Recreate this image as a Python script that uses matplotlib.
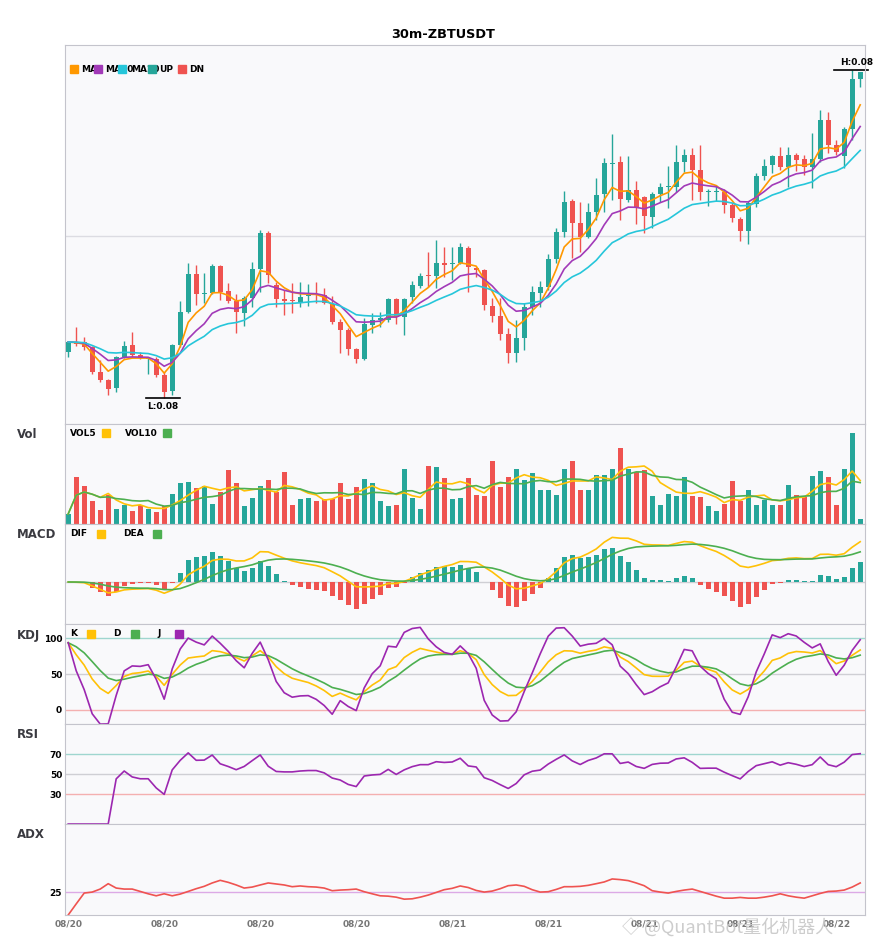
import numpy as np
import pandas as pd
import matplotlib
matplotlib.use("Agg")
import matplotlib.pyplot as plt
from matplotlib.patches import Rectangle

plt.rcParams['font.family'] = ['DejaVu Sans', 'Noto Sans CJK SC']

# 30m candles, prices in units of 0.00001 USDT
open_ = np.array([8034, 8044, 8044, 8039, 8014, 8006, 7998, 8029, 8041, 8031,
                  8027, 8027, 8011, 7995, 8041, 8074, 8112, 8092, 8093, 8120,
                  8095, 8085, 8073, 8088, 8117, 8153, 8101, 8087, 8086, 8084,
                  8090, 8092, 8091, 8082, 8064, 8056, 8037, 8027, 8061, 8066,
                  8066, 8087, 8069, 8089, 8100, 8111, 8110, 8123, 8122, 8123,
                  8138, 8118, 8116, 8080, 8070, 8052, 8033, 8048, 8079, 8093,
                  8099, 8127, 8154, 8185, 8163, 8149, 8174, 8192, 8222, 8224,
                  8186, 8196, 8189, 8169, 8192, 8199, 8199, 8224, 8231, 8216,
                  8194, 8194, 8194, 8181, 8167, 8155, 8182, 8210, 8221, 8230,
                  8219, 8231, 8227, 8219, 8227, 8266, 8241, 8230, 8257, 8307]) / 1e5
high = np.array([8045, 8059, 8049, 8040, 8026, 8007, 8030, 8045, 8054, 8034,
                 8029, 8029, 8014, 8042, 8085, 8123, 8121, 8113, 8122, 8121,
                 8103, 8092, 8090, 8124, 8156, 8155, 8104, 8096, 8103, 8104,
                 8102, 8104, 8098, 8090, 8067, 8058, 8038, 8068, 8073, 8074,
                 8088, 8088, 8088, 8105, 8113, 8134, 8146, 8139, 8139, 8143,
                 8140, 8119, 8117, 8088, 8088, 8058, 8066, 8083, 8100, 8105,
                 8132, 8158, 8195, 8187, 8184, 8183, 8208, 8228, 8252, 8230,
                 8230, 8205, 8190, 8194, 8203, 8220, 8241, 8237, 8238, 8241,
                 8197, 8201, 8197, 8183, 8169, 8185, 8213, 8227, 8231, 8239,
                 8239, 8233, 8231, 8253, 8276, 8274, 8246, 8259, 8316, 8314]) / 1e5
low = np.array([8029, 8040, 8036, 8012, 8004, 7991, 7994, 8028, 8029, 8027,
                8012, 8009, 7988, 7991, 8039, 8073, 8081, 8083, 8092, 8086,
                8083, 8053, 8060, 8079, 8094, 8103, 8079, 8071, 8073, 8079,
                8080, 8083, 8082, 8062, 8033, 8031, 8023, 8026, 8053, 8059,
                8064, 8062, 8051, 8083, 8098, 8099, 8098, 8109, 8106, 8122,
                8094, 8109, 8076, 8064, 8046, 8023, 8024, 8036, 8071, 8079,
                8096, 8123, 8149, 8128, 8134, 8148, 8166, 8174, 8186, 8166,
                8184, 8162, 8153, 8158, 8184, 8178, 8194, 8214, 8186, 8186,
                8180, 8185, 8173, 8164, 8145, 8142, 8179, 8206, 8213, 8216,
                8199, 8215, 8211, 8198, 8224, 8233, 8231, 8218, 8246, 8299]) / 1e5
close = np.array([8044, 8042, 8039, 8014, 8006, 7997, 8029, 8040, 8031, 8028,
                  8028, 8011, 7994, 8041, 8074, 8112, 8092, 8093, 8120, 8094,
                  8085, 8074, 8088, 8117, 8153, 8111, 8087, 8085, 8085, 8089,
                  8091, 8091, 8083, 8064, 8056, 8037, 8027, 8062, 8066, 8068,
                  8087, 8069, 8087, 8101, 8110, 8110, 8123, 8121, 8123, 8139,
                  8119, 8116, 8081, 8070, 8052, 8033, 8048, 8079, 8094, 8099,
                  8127, 8154, 8184, 8163, 8149, 8174, 8191, 8223, 8223, 8187,
                  8196, 8178, 8170, 8192, 8199, 8200, 8224, 8231, 8216, 8194,
                  8195, 8195, 8181, 8168, 8155, 8183, 8210, 8220, 8230, 8219,
                  8231, 8226, 8219, 8227, 8266, 8241, 8234, 8257, 8307, 8314]) / 1e5
volume = np.array([10, 47, 38, 23, 14, 29, 15, 19, 13, 19,
                   15, 12, 18, 30, 41, 42, 36, 38, 20, 32,
                   53, 41, 18, 26, 38, 44, 32, 51, 19, 25,
                   26, 23, 25, 25, 41, 25, 37, 45, 41, 23,
                   18, 19, 54, 26, 15, 57, 56, 46, 25, 26,
                   46, 29, 28, 62, 37, 47, 54, 44, 50, 34,
                   34, 29, 54, 62, 34, 34, 49, 49, 54, 75,
                   54, 51, 53, 28, 19, 30, 28, 47, 28, 27,
                   18, 13, 20, 43, 23, 34, 19, 24, 19, 19,
                   39, 29, 27, 48, 52, 47, 19, 54, 90, 5])
adx = np.array([0.0, 12.2, 24.1, 25.2, 28.5, 34.4, 29.6, 28.5, 28.5, 25.9,
                23.3, 21.1, 23.3, 21.1, 23.0, 25.9, 28.9, 31.5, 35.2, 38.1,
                35.9, 33.0, 29.6, 30.7, 33.0, 35.2, 34.1, 33.0, 31.1, 31.9,
                31.1, 30.7, 29.6, 26.7, 27.4, 27.8, 28.5, 25.6, 23.3, 21.1,
                20.7, 19.6, 17.4, 17.8, 19.6, 21.9, 24.8, 27.8, 29.3, 31.9,
                30.2, 27.0, 25.2, 26.3, 28.9, 32.2, 33.0, 31.5, 27.8, 25.2,
                25.6, 28.1, 31.1, 31.1, 31.5, 32.6, 34.4, 36.3, 39.6, 38.9,
                37.8, 35.2, 32.2, 26.7, 25.2, 24.1, 25.9, 27.4, 28.5, 25.9,
                23.3, 20.7, 18.5, 18.5, 19.3, 18.5, 18.5, 19.6, 21.1, 23.3,
                21.1, 19.6, 18.5, 21.1, 23.7, 25.9, 26.3, 27.4, 30.7, 35.2])
times = pd.date_range('2023-08-20 04:00', periods=len(close), freq='30min')

UP = '#26a69a'
DN = '#ef5350'

n = len(close)
x = np.arange(n)
c = pd.Series(close)
h = pd.Series(high)
l = pd.Series(low)
v = pd.Series(volume, dtype=float)

ma5 = c.ewm(span=5, adjust=False).mean()
ma10 = c.ewm(span=10, adjust=False).mean()
ma20 = c.ewm(span=20, adjust=False).mean()
vol5 = v.rolling(5, min_periods=1).mean()
vol10 = v.rolling(10, min_periods=1).mean()

dif = c.ewm(span=12, adjust=False).mean() - c.ewm(span=26, adjust=False).mean()
dea = dif.ewm(span=9, adjust=False).mean()
macd = 2 * (dif - dea)

llv = l.rolling(9, min_periods=1).min()
hhv = h.rolling(9, min_periods=1).max()
rsv = (c - llv) / (hhv - llv) * 100
k_vals, d_vals = [rsv[0]], [rsv[0]]
for r in rsv[1:]:
    k_vals.append(2 / 3 * k_vals[-1] + r / 3)
    d_vals.append(2 / 3 * d_vals[-1] + k_vals[-1] / 3)
kk = np.array(k_vals)
dd = np.array(d_vals)
jj = 3 * kk - 2 * dd

diff = c.diff().fillna(0)
gain = diff.clip(lower=0).ewm(alpha=1 / 14, adjust=False).mean()
loss = (-diff).clip(lower=0).ewm(alpha=1 / 14, adjust=False).mean()
rsi = (gain / (gain + loss) * 100).fillna(0)
rsi[:6] = 0

W, H = 885, 950
fig = plt.figure(figsize=(W / 100, H / 100), dpi=100)


def panel(top, bottom):
    ax = fig.add_axes([65 / W, 1 - bottom / H, 800 / W, (bottom - top) / H])
    ax.set_facecolor('#f9f9fb')
    for s in ax.spines.values():
        s.set_color('#c4c4cc')
    ax.set_xlim(-0.4, n - 0.4)
    ax.set_xticks([])
    ax.tick_params(axis='y', length=0, pad=2)
    return ax


def legend(y, items):
    for label, tx, sx, col in items:
        fig.text(tx / W, 1 - y / H, label, fontsize=6.5, fontweight='bold',
                 va='center', ha='left', zorder=5)
        fig.add_artist(Rectangle((sx / W, 1 - (y + 4) / H), 8 / W, 8 / H,
                                 transform=fig.transFigure, color=col, zorder=6))


def label(y, text):
    fig.text(17 / W, 1 - y / H, text, fontsize=8.5, fontweight='bold',
             color='#3a3a40', va='center', ha='left')


# main candles
ax = panel(45, 424)
up = close >= open_
cols = np.where(up, UP, DN)
ax.vlines(x, low, high, colors=cols, linewidth=1, zorder=2)
body_lo = np.minimum(open_, close)
body_h = np.maximum(np.abs(close - open_), 0.000012)
ax.bar(x, body_h, bottom=body_lo, width=0.66, color=cols, zorder=3)
ax.plot(x, ma5, color='#ff9800', lw=1.2, zorder=4)
ax.plot(x, ma10, color='#a23ab8', lw=1.2, zorder=4)
ax.plot(x, ma20, color='#26c6da', lw=1.2, zorder=4)
ax.set_ylim(0.07962, 0.08341)
ax.set_yticks([])
ax.axhline(0.0815, color='#dcdce2', lw=1, zorder=1)
hi_i = int(np.argmax(high))
lo_i = int(np.argmin(low))
ax.plot([hi_i - 2.3, hi_i + 2.0], [high[hi_i]] * 2, color='black', lw=1.2, clip_on=False)
ax.text(hi_i + 0.5, high[hi_i] + 0.00003, f'H:{high[hi_i]:.2f}', fontsize=6.5,
        fontweight='bold', ha='center', va='bottom')
ax.plot([lo_i - 2.3, lo_i + 2.0], [low[lo_i]] * 2, color='black', lw=1.2)
ax.text(lo_i - 0.2, low[lo_i] - 0.00004, f'L:{low[lo_i]:.2f}', fontsize=6.5,
        fontweight='bold', ha='center', va='top')
fig.text(443 / W, 1 - 34 / H, '30m-ZBTUSDT', fontsize=9.3, fontweight='bold',
         ha='center', va='center')
legend(69, [('MA5', 81, 70, '#ff9800'), ('MA10', 105, 94, '#a23ab8'),
            ('MA20', 131, 118, '#26c6da'), ('UP', 159, 148, UP), ('DN', 189, 178, DN)])

# volume
ax = panel(424, 524)
ax.bar(x, volume, width=0.66, color=cols, zorder=2)
ax.plot(x, vol5, color='#ffc107', lw=1.2, zorder=3)
ax.plot(x, vol10, color='#4caf50', lw=1.2, zorder=3)
ax.set_ylim(0, volume.max() * 1.1)
ax.set_yticks([])
label(435, 'Vol')
legend(433, [('VOL5', 70, 102, '#ffc107'), ('VOL10', 125, 163, '#4caf50')])

# macd
ax = panel(524, 624)
ax.bar(x, macd, width=0.66, color=np.where(macd >= 0, UP, DN), zorder=2)
ax.plot(x, dif, color='#ffc107', lw=1.2, zorder=3)
ax.plot(x, dea, color='#4caf50', lw=1.2, zorder=3)
ax.axhline(0, color='#cfcfd4', lw=1, zorder=1)
top = max(dif.max(), dea.max(), macd.max()) * 1.3
ax.set_ylim(-top * 42 / 58, top)
ax.set_yticks([])
label(535, 'MACD')
legend(534, [('DIF', 70, 97, '#ffc107'), ('DEA', 123, 153, '#4caf50')])

# kdj
ax = panel(624, 724)
ax.axhline(100, color='#9fd6cf', lw=1, zorder=1)
ax.axhline(50, color='#cfcfd4', lw=1, zorder=1)
ax.axhline(0, color='#f4b0b0', lw=1, zorder=1)
ax.plot(x, kk, color='#ffc107', lw=1.2)
ax.plot(x, dd, color='#4caf50', lw=1.2)
ax.plot(x, jj, color='#9c27b0', lw=1.2)
ax.set_ylim(-20, 120)
ax.set_yticks([0, 50, 100])
ax.set_yticklabels(['0', '50', '100'], fontsize=6.5, fontweight='bold')
label(636, 'KDJ')
legend(634, [('K', 70, 87, '#ffc107'), ('D', 113, 131, '#4caf50'), ('J', 157, 175, '#9c27b0')])

# rsi
ax = panel(724, 824)
ax.axhline(70, color='#9fd6cf', lw=1, zorder=1)
ax.axhline(50, color='#cfcfd4', lw=1, zorder=1)
ax.axhline(30, color='#f4b0b0', lw=1, zorder=1)
ax.plot(x, rsi, color='#9c27b0', lw=1.2)
ax.set_ylim(0, 100)
ax.set_yticks([30, 50, 70])
ax.set_yticklabels(['30', '50', '70'], fontsize=6.5, fontweight='bold')
label(735, 'RSI')

# adx
ax = panel(824, 915)
ax.axhline(25, color='#dcaae6', lw=1, zorder=1)
ax.plot(x, adx, color='#ef5350', lw=1.2)
ax.set_ylim(0, 100)
ax.set_yticks([25])
ax.set_yticklabels(['25'], fontsize=6.5, fontweight='bold')
ticks = list(range(0, n, 12))
ax.set_xticks(ticks)
ax.set_xticklabels([times[i].strftime('%m/%d') for i in ticks], fontsize=6.5,
                   fontweight='bold', color='#777777')
ax.tick_params(axis='x', length=0, pad=3)
label(835, 'ADX')

fig.text(622 / W, 1 - 927 / H, '◇ @QuantBot量化机器人', fontsize=13, color='#c8c8c8',
         ha='left', va='center', family=['Noto Sans CJK SC', 'DejaVu Sans'], alpha=0.9)

fig.savefig('out.png', dpi=100)
plt.close()
